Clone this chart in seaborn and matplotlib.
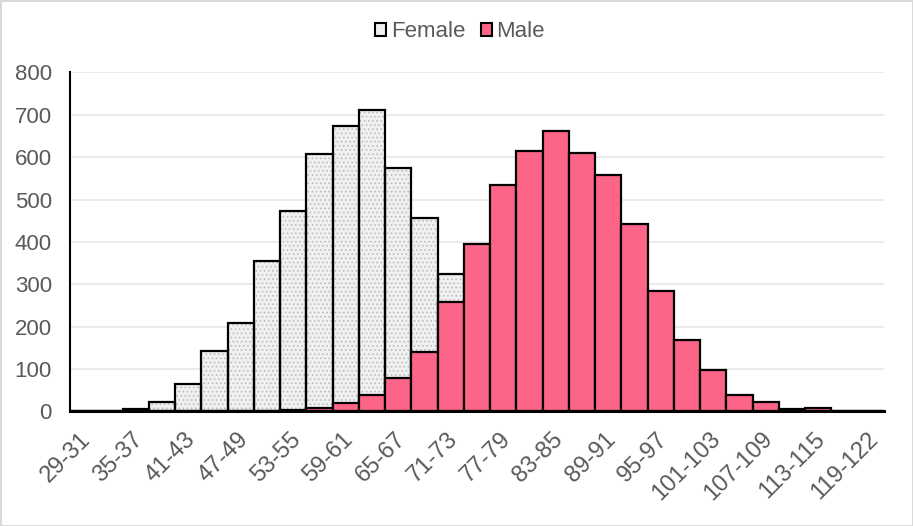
"""Height distribution by gender, overlapping bars"""

import seaborn as sns
from matplotlib import pyplot as plt
from matplotlib.patches import Patch
from matplotlib.transforms import ScaledTranslation

# Bins of 3 (last one is 119-122)
bins = [f"{lo}-{lo + 2}" for lo in range(29, 119, 3)] + ["119-122"]

female = [1, 2, 6, 23, 65, 143, 209, 354, 474, 607, 673, 711, 574, 456, 325,
          200, 110, 55, 25, 10, 4, 1, 0, 0, 0, 0, 0, 0, 0, 0, 0]
male = [0, 0, 0, 0, 0, 0, 1, 2, 4, 8, 20, 40, 79, 141, 258,
        396, 535, 614, 663, 609, 557, 443, 285, 168, 99, 39, 22, 6, 9, 2, 1]

FEMALE_COLOR = "#F0F0F0"
MALE_COLOR = "#FC6488"
TEXT_COLOR = "#595959"

sns.set_theme(style="white")
plt.rcParams["font.family"] = ["Liberation Sans", "DejaVu Sans"]
plt.rcParams["hatch.linewidth"] = 0.6

fig = plt.figure(figsize=(9.13, 5.26), dpi=100, facecolor="white",
                 edgecolor="#D9D9D9", linewidth=2)
ax = fig.add_axes([0.0767, 0.2177, 0.8915, 0.6445])

# Female: dotted fill first, then black outlines
sns.barplot(x=bins, y=female, color=FEMALE_COLOR, width=1.0, ax=ax,
            saturation=1, edgecolor="#B8B8B8", hatch="....", linewidth=0, zorder=2)
sns.barplot(x=bins, y=female, fill=False, width=1.0, ax=ax,
            edgecolor="black", linewidth=1.6, zorder=3)
# Male drawn in front
sns.barplot(x=bins, y=male, color=MALE_COLOR, width=1.0, ax=ax,
            saturation=1, edgecolor="black", linewidth=1.6, zorder=4)

ax.set_ylim(0, 800)
ax.set_xlim(-0.5, len(bins) - 0.5)
ax.set_yticks(range(0, 801, 100))
ax.yaxis.grid(True, color="#E8E8E8", linewidth=1.2, zorder=0)
ax.set_axisbelow(True)

ax.set_xticks(range(0, len(bins), 2))
ax.set_xticklabels(bins[::2], rotation=45, ha="right", rotation_mode="anchor")
ax.tick_params(axis="both", length=0, labelcolor=TEXT_COLOR)
ax.tick_params(axis="x", pad=12, labelsize=17)
ax.tick_params(axis="y", pad=13, labelsize=16)

# nudge rotated labels a little to the left, like the original
offset = ScaledTranslation(-4 / 100, 0, fig.dpi_scale_trans)
for lbl in ax.get_xticklabels():
    lbl.set_transform(lbl.get_transform() + offset)

sns.despine(ax=ax, top=True, right=True)
ax.spines["left"].set_color("black")
ax.spines["left"].set_linewidth(1.5)
ax.spines["bottom"].set_color("black")
ax.spines["bottom"].set_linewidth(2.2)
ax.spines["bottom"].set_zorder(6)

handles = [
    Patch(facecolor=FEMALE_COLOR, edgecolor="black", linewidth=1.5, label="Female"),
    Patch(facecolor=MALE_COLOR, edgecolor="black", linewidth=1.5, label="Male"),
]
fig.legend(handles=handles, loc="center", bbox_to_anchor=(0.504, 0.94), ncol=2,
           frameon=False, fontsize=16, labelcolor=TEXT_COLOR,
           handlelength=0.5, handleheight=0.5, handletextpad=0.2, columnspacing=0.7)

plt.savefig("out.png", dpi=100)
plt.close(fig)
